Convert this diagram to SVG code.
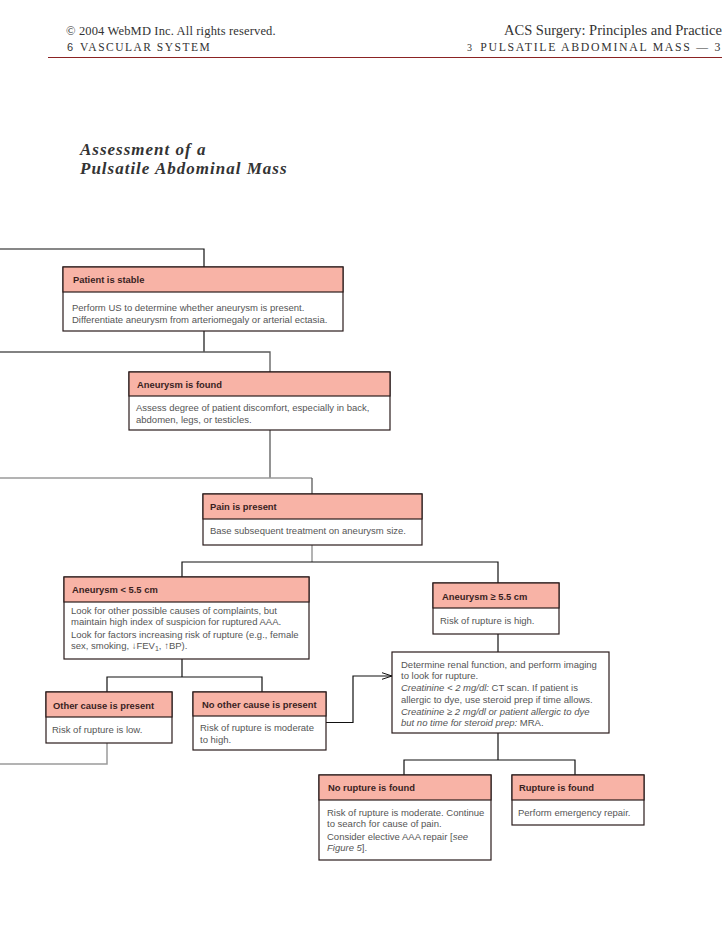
<svg xmlns="http://www.w3.org/2000/svg" width="728" height="942" viewBox="0 0 728 942">
<style>
  .hdrtxt { font-family: "Liberation Serif", serif; fill: #333; }
  .box { fill: #ffffff; stroke: #2a1c1c; stroke-width: 1.2; }
  .head { fill: #f8b3a6; stroke: #2a1c1c; stroke-width: 1.2; }
  .ht { font-family: "Liberation Sans", Arial, sans-serif; font-size: 9.4px; font-weight: bold; fill: #3a1f1f; }
  .bt { font-family: "Liberation Sans", Arial, sans-serif; font-size: 9.5px; fill: #555; }
  .it { font-style: italic; }
  .blk { fill: none; stroke: #111; stroke-width: 1.2; }
  .gry { fill: none; stroke: #9a9a9a; stroke-width: 1.5; }
  .dgry { fill: none; stroke: #5a5a5a; stroke-width: 1.3; }
</style>
<defs>
  <marker id="open" viewBox="0 0 12 8" refX="11" refY="4" markerWidth="12" markerHeight="8" markerUnits="userSpaceOnUse" orient="auto">
    <path d="M1,0.7 L11,4 L1,7.3" fill="none" stroke="#111" stroke-width="1"/>
  </marker>
</defs>
<rect width="728" height="942" fill="#ffffff"/>

<g id="page-header">
  <text class="hdrtxt" x="66" y="35" font-size="12.5" letter-spacing="0.15">© 2004 WebMD Inc. All rights reserved.</text>
  <text x="67" y="51" font-family="Liberation Sans, sans-serif" font-size="11" fill="#333">6</text>
  <text class="hdrtxt" x="80" y="51" font-size="11.5" letter-spacing="1.5">VASCULAR SYSTEM</text>
  <text class="hdrtxt" x="722" y="35" font-size="14.5" text-anchor="end">ACS Surgery: Principles and Practice</text>
  <text class="hdrtxt" x="467" y="51" font-size="10">3</text>
  <text class="hdrtxt" x="722" y="51" font-size="11.8" letter-spacing="1.7" text-anchor="end">PULSATILE ABDOMINAL MASS — 3</text>
  <line x1="48" y1="57.5" x2="722" y2="57.5" stroke="#8b2323" stroke-width="1.2"/>
</g>

<g id="title">
  <text x="80" y="155" font-family="Liberation Serif, serif" font-size="17" font-weight="bold" font-style="italic" letter-spacing="1" fill="#333">Assessment of a</text>
  <text x="80" y="174" font-family="Liberation Serif, serif" font-size="17" font-weight="bold" font-style="italic" letter-spacing="1" fill="#333">Pulsatile Abdominal Mass</text>
</g>

<g id="connectors">
  <path class="blk" d="M0,249 H204 V267"/>
  <path class="blk" d="M204,331 V352"/>
  <path class="dgry" d="M0,352 H270 V372"/>
  <path class="dgry" d="M270,430 V478"/>
  <path class="gry" d="M0,478 H312"/>
  <path class="dgry" d="M312,478 V494"/>
  <path class="gry" d="M312,545 V562"/>
  <path class="blk" d="M182,577 V562 H498 V583"/>
  <path class="blk" d="M182,659 V677"/>
  <path class="blk" d="M107,692 V677 H262 V692"/>
  <path class="gry" d="M107,743 V764 H0"/>
  <path class="blk" d="M326,722.5 H353 V676 H392" marker-end="url(#open)"/>
  <path class="blk" d="M498,634 V652"/>
  <path class="blk" d="M498,733 V760"/>
  <path class="blk" d="M404,775 V760 H575 V775"/>
</g>

<g id="patient-stable">
  <rect class="box" x="63" y="267" width="280" height="64"/>
  <rect class="head" x="63" y="267" width="280" height="25"/>
  <text class="ht" x="73" y="283">Patient is stable</text>
  <text class="bt" x="72" y="310.5">Perform US to determine whether aneurysm is present.</text>
  <text class="bt" x="72" y="323">Differentiate aneurysm from arteriomegaly or arterial ectasia.</text>
</g>

<g id="aneurysm-found">
  <rect class="box" x="129" y="372" width="261" height="58"/>
  <rect class="head" x="129" y="372" width="261" height="24"/>
  <text class="ht" x="137" y="387.5">Aneurysm is found</text>
  <text class="bt" x="136" y="410.5">Assess degree of patient discomfort, especially in back,</text>
  <text class="bt" x="136" y="422.5">abdomen, legs, or testicles.</text>
</g>

<g id="pain-present">
  <rect class="box" x="203" y="494" width="219" height="51"/>
  <rect class="head" x="203" y="494" width="219" height="25"/>
  <text class="ht" x="210" y="510">Pain is present</text>
  <text class="bt" x="210" y="534">Base subsequent treatment on aneurysm size.</text>
</g>

<g id="aneurysm-small">
  <rect class="box" x="64" y="577" width="245" height="82"/>
  <rect class="head" x="64" y="577" width="245" height="25"/>
  <text class="ht" x="72" y="593">Aneurysm &lt; 5.5 cm</text>
  <text class="bt" x="71" y="613.5">Look for other possible causes of complaints, but</text>
  <text class="bt" x="71" y="625">maintain high index of suspicion for ruptured AAA.</text>
  <text class="bt" x="71" y="637.5">Look for factors increasing risk of rupture (e.g., female</text>
  <text class="bt" x="71" y="649">sex, smoking, ↓FEV<tspan font-size="7" dy="2">1</tspan><tspan dy="-2">, ↑BP).</tspan></text>
</g>

<g id="aneurysm-large">
  <rect class="box" x="433" y="583" width="126" height="51"/>
  <rect class="head" x="433" y="583" width="126" height="25"/>
  <text class="ht" x="442" y="599.5">Aneurysm ≥ 5.5 cm</text>
  <text class="bt" x="440" y="623.5">Risk of rupture is high.</text>
</g>

<g id="renal-imaging">
  <rect class="box" x="392" y="652" width="217" height="81"/>
  <text class="bt" x="401" y="667.5">Determine renal function, and perform imaging</text>
  <text class="bt" x="401" y="679">to look for rupture.</text>
  <text class="bt" x="401" y="691"><tspan class="it">Creatinine &lt; 2 mg/dl:</tspan> CT scan. If patient is</text>
  <text class="bt" x="401" y="702.5">allergic to dye, use steroid prep if time allows.</text>
  <text class="bt" x="401" y="714.5"><tspan class="it">Creatinine ≥ 2 mg/dl or patient allergic to dye</tspan></text>
  <text class="bt" x="401" y="726"><tspan class="it">but no time for steroid prep:</tspan> MRA.</text>
</g>

<g id="other-cause">
  <rect class="box" x="46" y="692" width="126" height="51"/>
  <rect class="head" x="46" y="692" width="126" height="25"/>
  <text class="ht" x="53" y="708.5">Other cause is present</text>
  <text class="bt" x="52" y="732.5">Risk of rupture is low.</text>
</g>

<g id="no-other-cause">
  <rect class="box" x="193" y="692" width="133" height="58"/>
  <rect class="head" x="193" y="692" width="133" height="24"/>
  <text class="ht" x="202" y="707.5">No other cause is present</text>
  <text class="bt" x="200" y="731">Risk of rupture is moderate</text>
  <text class="bt" x="200" y="743">to high.</text>
</g>

<g id="no-rupture">
  <rect class="box" x="319" y="775" width="172" height="85"/>
  <rect class="head" x="319" y="775" width="172" height="25"/>
  <text class="ht" x="328" y="791">No rupture is found</text>
  <text class="bt" x="327" y="815.5">Risk of rupture is moderate. Continue</text>
  <text class="bt" x="327" y="826.5">to search for cause of pain.</text>
  <text class="bt" x="327" y="839.5">Consider elective AAA repair [<tspan class="it">see</tspan></text>
  <text class="bt" x="327" y="850.5"><tspan class="it">Figure 5</tspan>].</text>
</g>

<g id="rupture">
  <rect class="box" x="512" y="775" width="132" height="50"/>
  <rect class="head" x="512" y="775" width="132" height="25"/>
  <text class="ht" x="519" y="791">Rupture is found</text>
  <text class="bt" x="518" y="815.5">Perform emergency repair.</text>
</g>
</svg>
